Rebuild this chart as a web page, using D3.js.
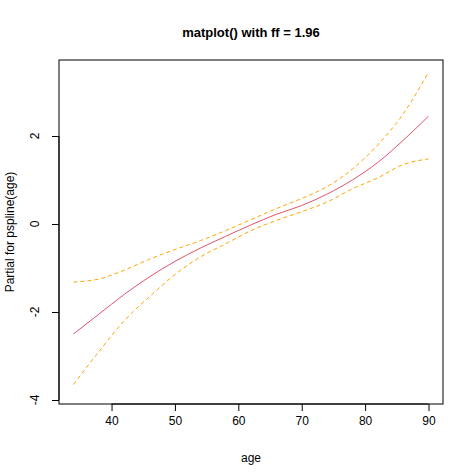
<!DOCTYPE html>
<html><head><meta charset="utf-8">
<script src="https://cdn.jsdelivr.net/npm/d3@7"></script>
<style>body{margin:0;background:#fff}text{font-family:"Liberation Sans",Arial,sans-serif}</style>
</head><body><svg id="c" width="474" height="474"></svg>
<script>
const ages   = [34,38,42,46,50,54,58,62,66,70,74,78,82,86,90];
const fit    = [-2.5,-2.05,-1.6,-1.2,-0.85,-0.55,-0.28,-0.02,0.22,0.42,0.68,1.0,1.4,1.9,2.45];
const upper  = [-1.32,-1.25,-1.05,-0.8,-0.58,-0.38,-0.15,0.1,0.35,0.58,0.85,1.25,1.8,2.5,3.45];
const lower  = [-3.65,-2.9,-2.2,-1.65,-1.15,-0.75,-0.45,-0.15,0.08,0.28,0.5,0.8,1.05,1.35,1.48];
const xTicks = [40,50,60,70,80,90];
const yTicks = [-4,-2,0,2];

const svg = d3.select("#c");
const L=59,R=443,T=60,B=404;
const x = d3.scaleLinear().domain([34,90]).range([73.5,428.5]);
const y = d3.scaleLinear().domain([-4,2]).range([400,136]);
svg.append("rect").attr("x",L).attr("y",T).attr("width",R-L).attr("height",B-T).attr("fill","none").attr("stroke","#000");
const line = d3.line().x((d,i)=>x(ages[i])).y(d=>y(d)).curve(d3.curveMonotoneX);
svg.append("path").attr("d",line(fit)).attr("fill","none").attr("stroke","#DF536B").attr("stroke-width",1);
[upper,lower].forEach(s=>svg.append("path").attr("d",line(s)).attr("fill","none").attr("stroke","#FFA500").attr("stroke-width",1).attr("stroke-dasharray","4,3"));
const xa = svg.append("g").attr("transform",`translate(0,${B})`).call(d3.axisBottom(x).tickValues(xTicks).tickSize(7).tickPadding(5));
xa.select(".domain").attr("d",`M${x(40)},0H${x(90)}`);
xa.selectAll("text").style("font-size","12px").style("font-family","Liberation Sans");
const ya = svg.append("g").attr("transform",`translate(${L},0)`).call(d3.axisLeft(y).tickValues(yTicks).tickSize(7).tickFormat(""));
ya.select(".domain").attr("d",`M0,${y(-4)}V${y(2)}`);
svg.append("g").selectAll("text").data(yTicks).join("text")
  .attr("transform",d=>`translate(${L-20},${y(d)}) rotate(-90)`)
  .attr("text-anchor","middle").style("font-size","12px").text(d=>d);
svg.append("text").attr("x",251).attr("y",37).attr("text-anchor","middle").style("font-weight","bold").style("font-size","13px").text("matplot() with ff = 1.96");
svg.append("text").attr("x",251).attr("y",462).attr("text-anchor","middle").style("font-size","12px").text("age");
svg.append("text").attr("transform","translate(14,232) rotate(-90)").attr("text-anchor","middle").style("font-size","12px").text("Partial for pspline(age)");
</script></body></html>
